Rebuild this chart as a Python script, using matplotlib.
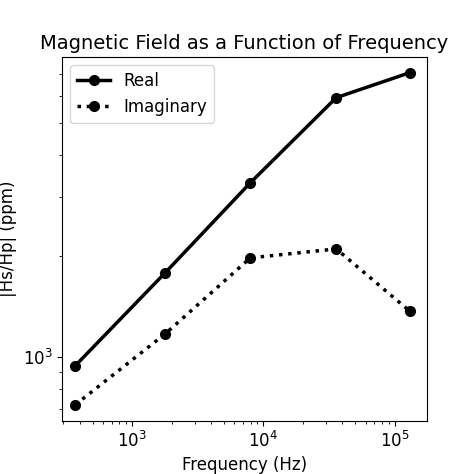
import matplotlib.pyplot as plt

freq = [368, 1780, 7960, 35900, 130000]
real = [940, 1780, 3310, 5940, 7050]
imag = [719, 1170, 1975, 2100, 1370]

fig = plt.figure(figsize=(4.74, 4.74), dpi=100)
ax = fig.add_axes([0.131, 0.112, 0.769, 0.768])
ax.plot(freq, real, '-o', color='black', lw=2.5, ms=7, label='Real')
ax.plot(freq, imag, ':o', color='black', lw=2.5, ms=7, label='Imaginary')
ax.set_xscale('log')
ax.set_yscale('log')
ax.set_xlim(293, 175000)
ax.set_ylim(644, 7860)
ax.set_title('Magnetic Field as a Function of Frequency', fontsize=14)
ax.set_xlabel('Frequency (Hz)', fontsize=12)
ax.set_ylabel('|Hs/Hp| (ppm)', fontsize=12)
ax.tick_params(labelsize=12)
ax.legend(fontsize=12, loc='upper left')
fig.savefig('out.png')
